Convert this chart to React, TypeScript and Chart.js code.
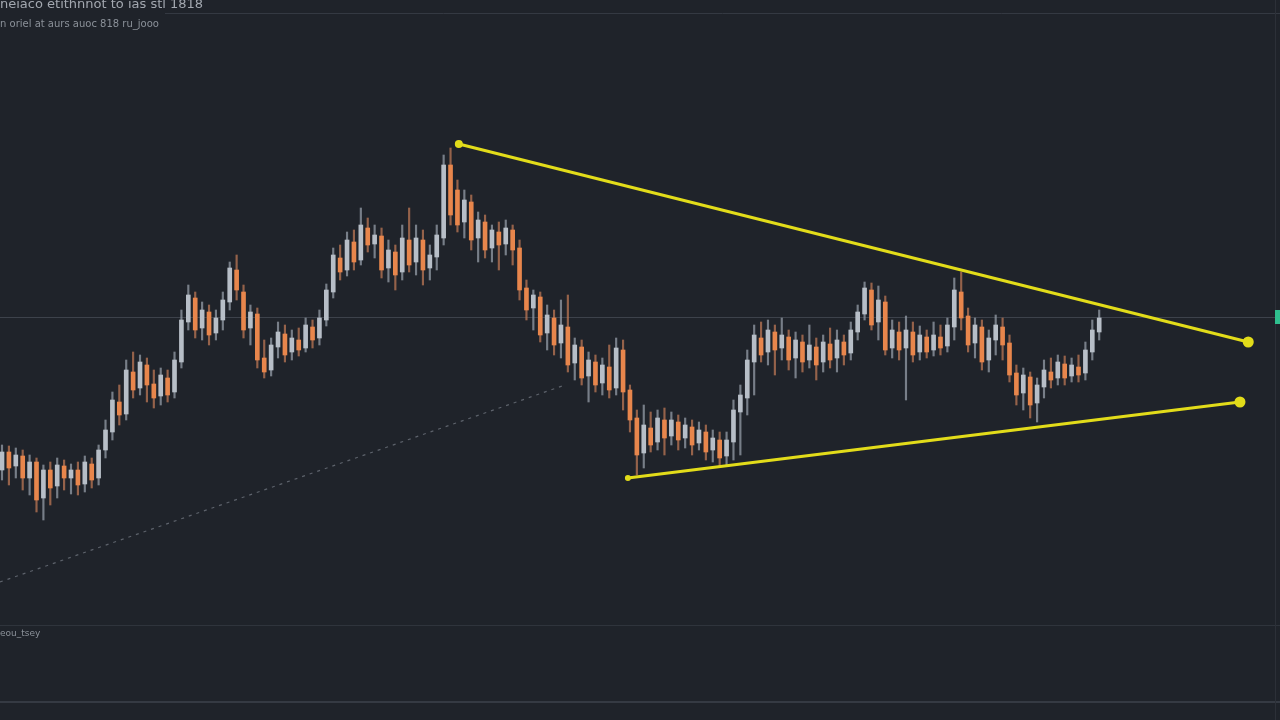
import React, { useEffect, useRef } from "react";
import { Chart, registerables } from "chart.js";

Chart.register(...registerables);

// Candle OHLC values (price units), one entry per period
const openVals = [
  250, 268, 254, 264, 242, 258, 222, 250, 234, 254,
  242, 250, 236, 256, 242, 270, 288, 318, 306, 348,
  332, 355, 336, 324, 342, 328, 358, 398, 422, 392,
  408, 387, 400, 418, 450, 428, 392, 406, 362, 350,
  373, 386, 368, 380, 372, 393, 382, 400, 428, 462,
  450, 478, 460, 492, 476, 484, 452, 468, 448, 480,
  458, 480, 452, 463, 482, 555, 530, 498, 518, 482,
  498, 472, 488, 476, 490, 472, 432, 412, 423, 387,
  402, 377, 393, 357, 373, 344, 358, 337, 353, 332,
  370, 330, 302, 267, 292, 278, 300, 284, 298, 282,
  293, 277, 288, 270, 280, 264, 278, 308, 322, 358,
  382, 368, 388, 372, 383, 362, 378, 360, 373, 358,
  376, 362, 378, 367, 388, 406, 430, 398, 418, 372,
  388, 372, 388, 368, 383, 370, 383, 374, 393, 428,
  404, 377, 393, 360, 380, 393, 377, 347, 327, 343,
  317, 333, 348, 342, 356, 344, 353, 347, 368, 388,
];
const highVals = [
  275, 274, 272, 270, 265, 262, 255, 258, 262, 260,
  256, 258, 264, 262, 275, 300, 328, 335, 360, 368,
  365, 362, 350, 352, 350, 368, 410, 435, 428, 418,
  415, 410, 428, 458, 465, 435, 415, 412, 380, 382,
  398, 395, 390, 392, 402, 400, 410, 436, 472, 475,
  488, 490, 512, 502, 495, 492, 480, 475, 495, 512,
  495, 490, 475, 495, 565, 572, 540, 530, 525, 508,
  505, 495, 498, 500, 495, 480, 440, 430, 428, 415,
  410, 420, 425, 382, 380, 368, 365, 362, 375, 382,
  380, 335, 310, 315, 308, 310, 312, 308, 305, 302,
  300, 298, 295, 290, 288, 288, 320, 335, 370, 395,
  398, 400, 395, 402, 390, 388, 385, 395, 382, 385,
  392, 390, 385, 398, 415, 438, 437, 434, 424, 400,
  398, 404, 398, 394, 390, 398, 395, 402, 442, 448,
  412, 402, 400, 390, 405, 402, 385, 355, 352, 348,
  342, 360, 362, 365, 364, 362, 365, 378, 400, 410,
];
const lowVals = [
  240, 235, 242, 230, 225, 208, 200, 215, 222, 230,
  226, 225, 228, 232, 235, 262, 280, 295, 300, 322,
  325, 318, 312, 315, 318, 322, 352, 390, 382, 380,
  375, 380, 390, 410, 420, 382, 375, 352, 342, 344,
  362, 358, 360, 364, 368, 372, 375, 394, 422, 440,
  444, 450, 455, 468, 462, 442, 438, 430, 440, 448,
  445, 435, 440, 450, 475, 495, 488, 482, 470, 458,
  462, 458, 450, 465, 455, 420, 400, 390, 378, 370,
  365, 362, 348, 340, 335, 318, 328, 325, 322, 325,
  310, 288, 245, 252, 268, 270, 265, 275, 270, 272,
  265, 270, 260, 258, 254, 255, 260, 265, 305, 325,
  358, 355, 345, 360, 350, 342, 348, 352, 340, 348,
  352, 348, 355, 360, 380, 400, 390, 380, 365, 362,
  360, 320, 358, 360, 362, 364, 365, 368, 380, 390,
  368, 362, 350, 348, 365, 360, 338, 315, 310, 302,
  298, 322, 332, 335, 335, 338, 338, 340, 360, 380,
];
const closeVals = [
  268, 252, 265, 242, 258, 220, 250, 232, 255, 242,
  250, 235, 258, 240, 270, 290, 320, 305, 350, 330,
  358, 335, 322, 345, 325, 360, 400, 425, 390, 410,
  385, 402, 420, 452, 430, 390, 408, 360, 348, 375,
  388, 365, 382, 370, 395, 380, 402, 430, 465, 448,
  480, 458, 495, 475, 485, 450, 470, 445, 482, 455,
  482, 450, 465, 485, 555, 505, 495, 520, 480, 500,
  470, 490, 475, 492, 470, 430, 410, 425, 385, 405,
  375, 395, 355, 375, 342, 360, 335, 355, 330, 372,
  328, 300, 265, 295, 275, 302, 282, 300, 280, 295,
  275, 290, 268, 282, 262, 280, 310, 325, 360, 385,
  365, 390, 370, 385, 360, 380, 358, 375, 355, 378,
  360, 380, 365, 390, 408, 432, 395, 420, 370, 390,
  370, 390, 365, 385, 368, 385, 372, 395, 430, 402,
  375, 395, 358, 382, 395, 375, 345, 325, 345, 315,
  335, 350, 340, 358, 342, 355, 345, 370, 390, 402,
];

// Trend lines (x in period index, y in price)
const upperTrendX = [66.2, 180.6];
const upperTrendY = [576, 378];
const lowerTrendX = [90.7, 179.4];
const lowerTrendY = [242, 318];
const dashedTrendX = [-0.3, 81.6];
const dashedTrendY = [138, 335];

const titleText = "neiaco etithnnot to ias stl 1818";
const subtitleText = "n oriel at aurs auoc 818 ru_jooo";
const volumeText = "eou_tsey";

const BG = "#1f232a";
const UP = "#b7bec7";
const DOWN = "#e8864c";
const UP_WICK = "rgba(150,158,168,0.75)";
const DOWN_WICK = "rgba(190,120,85,0.75)";
const YELLOW = "#e2dc1a";

export default function App() {
  const canvasRef = useRef<HTMLCanvasElement | null>(null);

  useEffect(() => {
    document.body.style.margin = "0";
    document.body.style.background = BG;
    document.body.style.overflow = "hidden";
    const canvas = canvasRef.current;
    if (!canvas) return;

    const idx = openVals.map((_, i) => i);
    const isUp = idx.map((i) => closeVals[i] >= openVals[i]);

    const decor = {
      id: "decor",
      beforeDatasetsDraw(chart: any) {
        const ctx = chart.ctx;
        ctx.save();
        ctx.lineWidth = 1;
        ctx.strokeStyle = "#343942";
        ctx.beginPath();
        ctx.moveTo(165, 13.5);
        ctx.lineTo(1280, 13.5);
        ctx.stroke();
        ctx.strokeStyle = "#3d424b";
        ctx.beginPath();
        ctx.moveTo(0, 317.5);
        ctx.lineTo(1280, 317.5);
        ctx.stroke();
        ctx.strokeStyle = "#2f343c";
        ctx.beginPath();
        ctx.moveTo(0, 625.5);
        ctx.lineTo(1280, 625.5);
        ctx.stroke();
        ctx.strokeStyle = "#353a43";
        ctx.lineWidth = 2;
        ctx.beginPath();
        ctx.moveTo(0, 702);
        ctx.lineTo(1280, 702);
        ctx.stroke();
        ctx.lineWidth = 1;
        ctx.strokeStyle = "#2c3038";
        ctx.beginPath();
        ctx.moveTo(1275.5, 0);
        ctx.lineTo(1275.5, 720);
        ctx.stroke();
        ctx.fillStyle = "#2fbf8e";
        ctx.fillRect(1275, 310, 5, 14);
        ctx.restore();
      },
    };

    const chart = new Chart(canvas, {
      type: "bar",
      data: {
        datasets: [
          {
            type: "line" as const,
            data: dashedTrendX.map((x, i) => ({ x, y: dashedTrendY[i] })),
            borderColor: "rgba(120,126,135,0.7)",
            borderWidth: 1.2,
            borderDash: [3, 5],
            pointRadius: 0,
            order: 5,
          },
          {
            data: idx.map((i) => ({ x: i, y: [lowVals[i], highVals[i]] })),
            backgroundColor: idx.map((i) => (isUp[i] ? UP_WICK : DOWN_WICK)),
            barThickness: 1.5,
            grouped: false,
            order: 4,
          } as any,
          {
            data: idx.map((i) => ({ x: i, y: [openVals[i], closeVals[i]] })),
            backgroundColor: idx.map((i) => (isUp[i] ? UP : DOWN)),
            barThickness: 4,
            grouped: false,
            minBarLength: 3,
            order: 3,
          } as any,
          {
            type: "line" as const,
            data: upperTrendX.map((x, i) => ({ x, y: upperTrendY[i] })),
            borderColor: YELLOW,
            backgroundColor: YELLOW,
            borderWidth: 3,
            pointRadius: [2.5, 4],
            order: 1,
          },
          {
            type: "line" as const,
            data: lowerTrendX.map((x, i) => ({ x, y: lowerTrendY[i] })),
            borderColor: YELLOW,
            backgroundColor: YELLOW,
            borderWidth: 3,
            pointRadius: [1.5, 4],
            order: 1,
          },
        ],
      },
      options: {
        animation: false,
        responsive: false,
        maintainAspectRatio: false,
        layout: { padding: 0, autoPadding: false },
        plugins: { legend: { display: false }, tooltip: { enabled: false } },
        scales: {
          x: { type: "linear", min: -0.29, max: 185.2, display: false, offset: false },
          y: { type: "linear", min: 0, max: 720, display: false },
        },
      },
      plugins: [decor],
    } as any);

    return () => chart.destroy();
  }, []);

  return (
    <div style={{ position: "relative", width: 1280, height: 720, background: BG, overflow: "hidden", fontFamily: "'DejaVu Sans', sans-serif" }}>
      <canvas ref={canvasRef} width={1280} height={720} style={{ display: "block" }} />
      <div style={{ position: "absolute", left: 0, top: -4, fontSize: 13, color: "#a3a8b0", whiteSpace: "nowrap" }}>{titleText}</div>
      <div style={{ position: "absolute", left: 0, top: 18, fontSize: 10, color: "#8b9199", whiteSpace: "nowrap" }}>{subtitleText}</div>
      <div style={{ position: "absolute", left: 0, top: 628, fontSize: 9, color: "#8b9199", whiteSpace: "nowrap" }}>{volumeText}</div>
    </div>
  );
}
